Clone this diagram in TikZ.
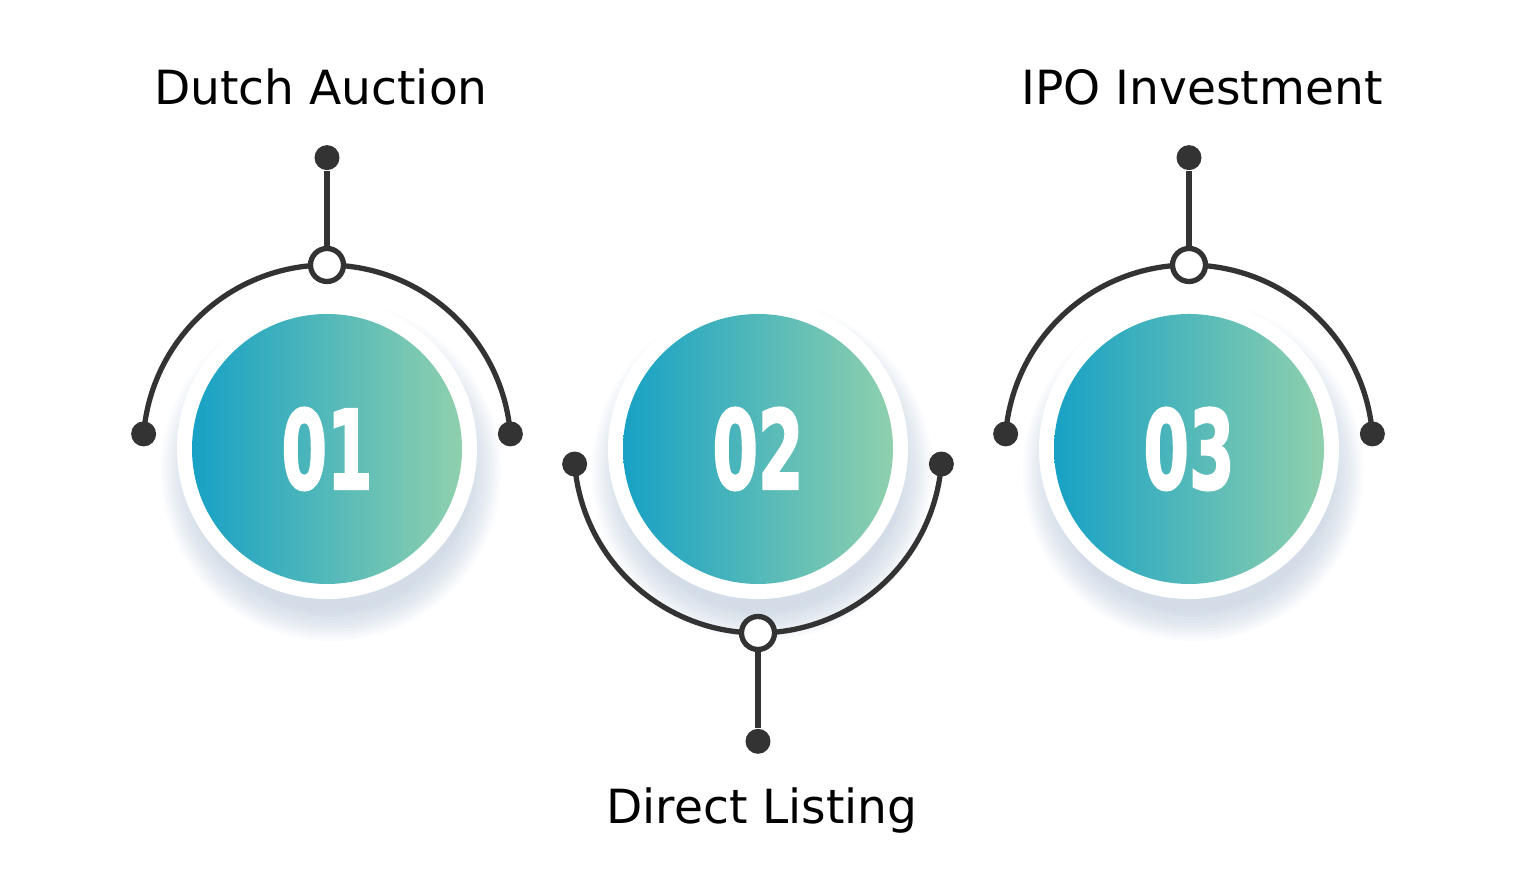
\documentclass[tikz,border=0pt]{standalone}
\usepackage{fontspec}
\setmainfont{DejaVu Sans}
\newfontfamily\numfont{DejaVu Sans Bold}[FakeBold=2.5]
\usetikzlibrary{positioning}

\definecolor{inkgrey}{HTML}{333333}
\definecolor{tealblue}{HTML}{17A1C5}
\definecolor{mintgreen}{HTML}{8FD0AD}
\definecolor{shadowblue}{HTML}{9FB4CC}

\tikzset{
  ring/.style={circle, minimum size=3cm, inner sep=0pt, fill=white},
  numdisc/.style={circle, minimum size=2.7cm, inner sep=0pt,
    left color=tealblue, right color=mintgreen, text=white,
    font=\fontsize{31}{31}\numfont},
  arcline/.style={draw=inkgrey, line width=1.5pt},
  joint/.style={circle, draw=inkgrey, line width=1.5pt, fill=white,
    minimum size=0.33cm, inner sep=0pt},
  enddot/.style={circle, fill=inkgrey, minimum size=0.25cm, inner sep=0pt},
  steptitle/.style={font=\fontsize{13.4}{15}\selectfont, anchor=base}
}

\begin{document}
\begin{tikzpicture}
  \useasboundingbox (0, 0) rectangle (15.36, 8.70);

  % soft shadows under the discs
  \foreach \x in {3.27, 7.58, 11.89} {
    \foreach \r in {1.40, 1.43, ..., 1.71}
      \fill[shadowblue, opacity=0.055] (\x+0.04, 3.99) circle[radius=\r];
  }

  \node[ring] (r1) at (3.27, 4.21) {};
  \node[ring] (r2) at (7.58, 4.21) {};
  \node[ring] (r3) at (11.89, 4.21) {};
  \node[numdisc] (c1) at (r1) {\scalebox{0.6}[1]{01}};
  \node[numdisc] (c2) at (r2) {\scalebox{0.6}[1]{02}};
  \node[numdisc] (c3) at (r3) {\scalebox{0.6}[1]{03}};

  % step 1
  \draw[arcline] ([shift={(175.3:1.84)}]c1.center) arc[start angle=175.3, end angle=4.7, radius=1.84];
  \node[enddot] (dl1) at ([shift={(175.3:1.84)}]c1.center) {};
  \node[enddot] (dr1) at ([shift={(4.7:1.84)}]c1.center) {};
  \node[joint] (j1) at ([yshift=1.84cm]c1.center) {};
  \node[enddot, above=0.75cm of j1] (dt1) {};
  \draw[arcline] (j1) -- (dt1);
  \node[steptitle] (t1) at (3.21, 7.65) {Dutch Auction};

  % step 2
  \draw[arcline] ([shift={(-175.3:1.84)}]c2.center) arc[start angle=-175.3, end angle=-4.7, radius=1.84];
  \node[enddot] (dl2) at ([shift={(-175.3:1.84)}]c2.center) {};
  \node[enddot] (dr2) at ([shift={(-4.7:1.84)}]c2.center) {};
  \node[joint] (j2) at ([yshift=-1.84cm]c2.center) {};
  \node[enddot, below=0.76cm of j2] (db2) {};
  \draw[arcline] (j2) -- (db2);
  \node[steptitle] (t2) at (7.62, 0.46) {Direct Listing};

  % step 3
  \draw[arcline] ([shift={(175.3:1.84)}]c3.center) arc[start angle=175.3, end angle=4.7, radius=1.84];
  \node[enddot] (dl3) at ([shift={(175.3:1.84)}]c3.center) {};
  \node[enddot] (dr3) at ([shift={(4.7:1.84)}]c3.center) {};
  \node[joint] (j3) at ([yshift=1.84cm]c3.center) {};
  \node[enddot, above=0.75cm of j3] (dt3) {};
  \draw[arcline] (j3) -- (dt3);
  \node[steptitle] (t3) at (12.02, 7.65) {IPO Investment};
\end{tikzpicture}
\end{document}
